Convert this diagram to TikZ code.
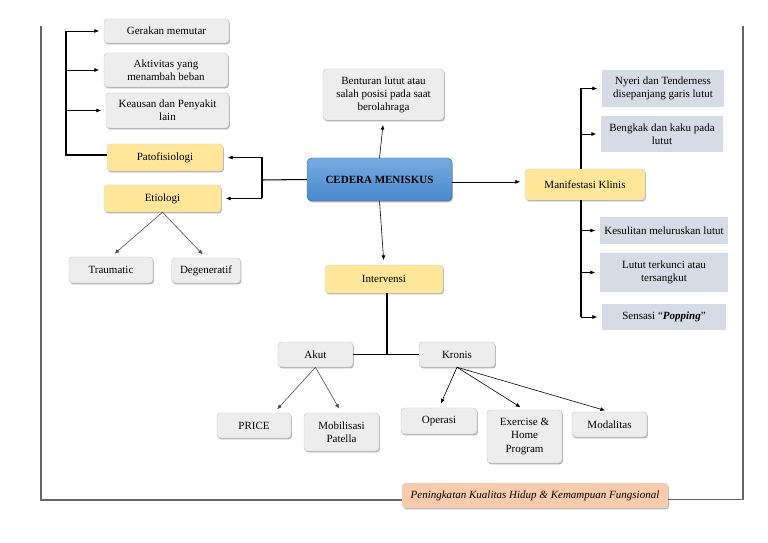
\documentclass[tikz,border=0pt]{standalone}
\usepackage{fontspec}
\setmainfont{Liberation Serif}
\usetikzlibrary{calc,shadows,arrows.meta}
\definecolor{boxgray}{HTML}{EDEDED}
\definecolor{boxyellow}{HTML}{FFE699}
\definecolor{boxslate}{HTML}{D6DCE5}
\definecolor{boxpeach}{HTML}{F8CBAD}
\definecolor{cedtop}{HTML}{75ABE0}
\definecolor{cedbot}{HTML}{4A88CC}
\tikzset{
	sz/.style 2 args={minimum width=#1*0.03cm, minimum height=#2*0.03cm},
	txt/.style={align=center, inner sep=1pt, font=\fontsize{9.4}{11.2}\selectfont},
	shade box/.style={drop shadow={shadow xshift=0.8pt, shadow yshift=-1.2pt, fill=black, opacity=0.3}},
	gbox/.style={txt, shade box, draw=black!22, fill=boxgray, rounded corners=3pt},
	ybox/.style={txt, shade box, draw=black!15, fill=boxyellow, rounded corners=3pt},
	sbox/.style={txt, fill=boxslate},
	pbox/.style={txt, shade box, draw=black!10, fill=boxpeach, rounded corners=3pt},
	cbox/.style={txt, shade box, draw=cedbot!80!black, top color=cedtop, bottom color=cedbot, rounded corners=4pt},
	arr/.style={-{Latex[length=4pt,width=3.4pt]}, line width=0.5pt, shorten >=4pt},
	elbow/.style={line width=0.9pt},
}
\begin{document}
\begin{tikzpicture}[x=0.03cm, y=-0.03cm]
			%%%%% START %%%%%
			
			\useasboundingbox[fill=white] (0,0) rectangle (768,543);
			
			\node[cbox, sz={145}{43}] (ced) at (379.5, 179.5) {\textbf{CEDERA MENISKUS}};
			\node[gbox, sz={121}{51}] (bentur) at (383.5, 94.5) {Benturan lutut atau\\salah posisi pada saat\\berolahraga};
			
			\node[gbox, sz={125}{24}] (gerak) at (166.5, 31) {Gerakan memutar};
			\node[gbox, sz={124}{34}] (aktiv) at (166, 70) {Aktivitas yang\\menambah beban};
			\node[gbox, sz={123}{35}] (keaus) at (167.5, 110.5) {Keausan dan Penyakit\\lain};
			\node[ybox, sz={116}{27}] (pato) at (165, 157.5) {Patofisiologi};
			\node[ybox, sz={117}{27}] (etio) at (162.5, 198.5) {Etiologi};
			\node[gbox, sz={84}{26}] (trauma) at (111, 270) {Traumatic};
			\node[gbox, sz={69}{25}] (degen) at (206, 270.5) {Degeneratif};
			
			\node[ybox, sz={120}{31}] (mani) at (585, 184.5) {Manifestasi Klinis};
			\node[sbox, sz={122}{37}] (nyeri) at (663, 88.5) {Nyeri dan Tenderness\\disepanjang garis lutut};
			\node[sbox, sz={122}{36}] (bengkak) at (662, 134) {Bengkak dan kaku pada\\lutut};
			\node[sbox, sz={128}{27}] (kesul) at (664, 230.5) {Kesulitan meluruskan lutut};
			\node[sbox, sz={128}{39}] (kunci) at (664, 272.5) {Lutut terkunci atau\\tersangkut};
			\node[sbox, sz={124}{26}] (popping) at (664, 317) {Sensasi “\textbf{\textit{Popping}}”};
			
			\node[ybox, sz={118}{28}] (interv) at (384, 279) {Intervensi};
			\node[gbox, sz={75}{25}] (akut) at (315.5, 354.5) {Akut};
			\node[gbox, sz={76}{25}] (kronis) at (457, 354.5) {Kronis};
			\node[gbox, sz={74}{25}] (price) at (254, 425.5) {PRICE};
			\node[gbox, sz={75}{38}] (mobil) at (341.5, 432) {Mobilisasi\\Patella};
			\node[gbox, sz={76}{26}] (operasi) at (439, 421) {Operasi};
			\node[gbox, sz={75}{53}] (exer) at (524.5, 436.5) {Exercise \&\\Home\\Program};
			\node[gbox, sz={75}{25}] (modal) at (609.5, 424.5) {Modalitas};
			
			\node[pbox, sz={266}{25}] (hasil) at (535, 495.5) {\textit{Peningkatan Kualitas Hidup \& Kemampuan Fungsional}};
			
			% frame
			\coordinate (ftl) at (41, 26);
			\coordinate (fbl) at (41, 500);
			\coordinate (fbr) at (743, 499.5);
			\coordinate (ftr) at (743, 26);
			\draw[line width=1.4pt, color=black!60] (ftl) -- (fbl) -- (hasil.west |- fbl);
			\draw[line width=1.4pt, color=black!60] (hasil.east |- fbr) -- (fbr) -- (ftr);
			
			% patofisiologi
			\coordinate (lsp) at (66, 31);
			\draw[elbow] (pato.west |- 0,155) -| (lsp);
			\draw[arr] (lsp) -- (gerak.west);
			\draw[arr] (aktiv.west -| lsp) -- (aktiv.west);
			\draw[arr] (keaus.west -| lsp) -- (keaus.west);
			
			% cedera
			\coordinate (cbr) at (262, 180);
			\draw[elbow] (ced.west) -- (cbr);
			\draw[elbow] (cbr |- pato.east) -- (cbr |- etio.east);
			\draw[arr] (cbr |- pato.east) -- (pato.east);
			\draw[arr] (cbr |- etio.east) -- (etio.east);
			\draw[arr] (ced.north) -- (bentur.south);
			\draw[arr] ([yshift=-2pt]ced.east) -- ([yshift=-2pt]mani.west |- ced.east);
			\draw[arr] (ced.south) -- (interv.north);
			
			\draw[arr, color=black!70] (etio.south) -- (trauma.north);
			\draw[arr, color=black!70] (etio.south) -- (degen.north);
			
			% manifestasi
			\coordinate (rsp) at (581, 0);
			\draw[elbow] (mani.north -| rsp) -- (nyeri.west -| rsp);
			\draw[arr] (nyeri.west -| rsp) -- (nyeri.west);
			\draw[arr] (bengkak.west -| rsp) -- (bengkak.west);
			\draw[elbow] (mani.south -| rsp) -- (popping.west -| rsp);
			\draw[arr] (kesul.west -| rsp) -- (kesul.west);
			\draw[arr] (kunci.west -| rsp) -- (kunci.west);
			\draw[arr] (popping.west -| rsp) -- (popping.west);
			
			% intervensi
			\coordinate (isp) at (387, 0);
			\draw[elbow] (akut.east) -- (kronis.west);
			\draw[elbow] (interv.south -| isp) -- (akut.east -| isp);
			\draw[arr, color=black!70] (akut.south) -- ($(price.north)+(20,0)$);
			\draw[arr, color=black!70] (akut.south) -- (mobil.north);
			\draw[arr] (kronis.south) -- (operasi.north);
			\draw[arr] (kronis.south) -- (exer.north);
			\draw[arr] (kronis.south) -- (modal.north);
			
			%%%%% END %%%%%
\end{tikzpicture}
\end{document}
